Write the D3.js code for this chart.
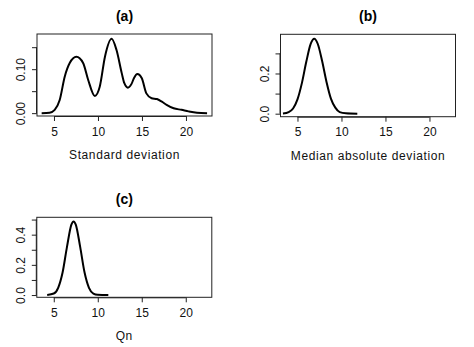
<!DOCTYPE html>
<html><head><meta charset="utf-8">
<script src="https://cdn.jsdelivr.net/npm/d3@7"></script>
<style>
html,body{margin:0;padding:0;background:#fff;}
svg{display:block;font-family:"Liberation Sans",Arial,sans-serif;}
</style></head>
<body>
<script>
// Panel (a): Standard deviation density
const xA = [3.6,4.5,5.08,5.65,6.22,6.79,7.55,8.31,8.88,9.64,10.2,10.8,11.55,12.1,12.7,13.0,13.4,13.8,14.1,14.47,14.97,15.5,16.1,16.7,17.26,17.8,18.6,19.5,20.3,21.25,22.4];
const yA = [0,0.001,0.0075,0.030,0.083,0.114,0.128,0.114,0.076,0.039,0.060,0.129,0.169,0.144,0.091,0.068,0.058,0.066,0.080,0.089,0.080,0.045,0.034,0.032,0.026,0.019,0.011,0.0075,0.004,0.001,0];
// Panel (b): Median absolute deviation density
const xB = [3.35,4.0,4.5,5.0,5.5,6.0,6.5,6.9,7.3,7.8,8.3,8.8,9.3,9.8,10.5,11.8];
const yB = [0.001,0.008,0.026,0.071,0.152,0.258,0.347,0.373,0.348,0.262,0.158,0.075,0.030,0.008,0.002,0];
// Panel (c): Qn density
const xC = [4.25,5.0,5.5,6.0,6.5,7.0,7.25,7.5,8.0,8.5,9.0,9.5,10.0,11.2];
const yC = [0.001,0.010,0.048,0.149,0.319,0.467,0.488,0.467,0.319,0.149,0.048,0.010,0.002,0];

const xTicks = [5,10,15,20];
const panels = [
  {title:"(a)", xlab:"Standard deviation", xs:xA, ys:yA, ydom:[-0.0065,0.18], yticks:[0,0.05,0.10,0.15], ylabels:{0:"0.00",0.1:"0.10"},
   box:{l:37,r:212,t:34,b:116}},
  {title:"(b)", xlab:"Median absolute deviation", xs:xB, ys:yB, ydom:[-0.015,0.395], yticks:[0,0.1,0.2,0.3], ylabels:{0:"0.0",0.2:"0.2"},
   box:{l:280.5,r:455.5,t:34.3,b:116.7}},
  {title:"(c)", xlab:"Qn", xs:xC, ys:yC, ydom:[-0.015,0.515], yticks:[0,0.1,0.2,0.3,0.4,0.5], ylabels:{0:"0.0",0.2:"0.2",0.4:"0.4"},
   box:{l:36.8,r:211.8,t:217.3,b:297.3}}
];

const svg = d3.select("body").append("svg").attr("width",474).attr("height",347);
svg.append("rect").attr("width",474).attr("height",347).attr("fill","#fff");

panels.forEach(p=>{
  const b = p.box;
  const x = d3.scaleLinear().domain([3.07,22.96]).range([b.l,b.r]);
  const y = d3.scaleLinear().domain(p.ydom).range([b.b,b.t]);
  const g = svg.append("g");
  g.append("rect").attr("x",b.l).attr("y",b.t).attr("width",b.r-b.l).attr("height",b.b-b.t)
    .attr("fill","none").attr("stroke","#222").attr("stroke-width",1);
  const xa = d3.axisBottom(x).tickValues(xTicks).tickSize(5).tickPadding(6).tickFormat(d3.format("d"));
  const gx = g.append("g").attr("transform",`translate(0,${b.b})`).call(xa);
  gx.select(".domain").attr("d",`M${x(5)},0.5H${x(20)}`).attr("stroke","#222");
  gx.selectAll(".tick line").attr("stroke","#222");
  gx.selectAll("text").attr("font-size","12px").attr("fill","#111").attr("font-family","Liberation Sans, Arial, sans-serif");
  const ya = d3.axisLeft(y).tickValues(p.yticks).tickSize(5).tickPadding(4)
     .tickFormat(d=>{const k=Object.keys(p.ylabels).find(v=>Math.abs(+v-d)<1e-9); return k!==undefined?p.ylabels[k]:"";});
  const gy = g.append("g").attr("transform",`translate(${b.l},0)`).call(ya);
  gy.select(".domain").attr("d",`M-0.5,${y(p.yticks[0])}V${y(p.yticks[p.yticks.length-1])}`).attr("stroke","#222");
  gy.selectAll(".tick line").attr("stroke","#222");
  gy.selectAll("text").attr("font-size","12px").attr("fill","#111").attr("font-family","Liberation Sans, Arial, sans-serif")
    .attr("text-anchor","middle").attr("dy","0").attr("x",0).attr("y",0)
    .attr("transform","translate(-16,0) rotate(-90)").attr("dominant-baseline","central");
  const data = p.xs.map((v,i)=>[v,p.ys[i]]);
  g.append("path").datum(data).attr("fill","none").attr("stroke","#000").attr("stroke-width",2)
    .attr("stroke-linejoin","round")
    .attr("d", d3.line().x(d=>x(d[0])).y(d=>y(d[1])).curve(d3.curveMonotoneX));
  g.append("text").attr("x",(b.l+b.r)/2).attr("y",b.t-18).attr("text-anchor","middle")
    .attr("dominant-baseline","central").attr("font-weight","bold").attr("font-size","14px").text(p.title);
  g.append("text").attr("x",(b.l+b.r)/2).attr("y",b.b+39).attr("text-anchor","middle")
    .attr("dominant-baseline","central").attr("font-size","12px").attr("letter-spacing","0.6px").attr("fill","#111").text(p.xlab);
});
</script>
</body></html>
